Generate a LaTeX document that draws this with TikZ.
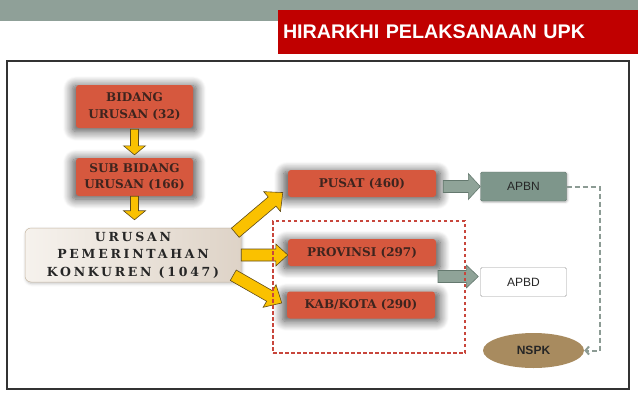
\documentclass[tikz,border=0pt]{standalone}
\usepackage{fontspec}
\usetikzlibrary{calc,arrows.meta,shapes.geometric,shadows.blur}
\newfontfamily\sansfont{Liberation Sans}
\newfontfamily\seriffont{DejaVu Serif}
\newfontfamily\spacedfont{DejaVu Serif}[LetterSpace=22]
\definecolor{bandgray}{RGB}{143,160,152}
\definecolor{titlered}{RGB}{192,0,0}
\definecolor{boxred}{RGB}{214,88,62}
\definecolor{boxtext}{RGB}{62,36,30}
\definecolor{arrowyellow}{RGB}{250,193,0}
\definecolor{arrowline}{RGB}{95,75,25}
\definecolor{arrowgray}{RGB}{143,163,152}
\definecolor{arrowgrayline}{RGB}{100,120,110}
\definecolor{apbngreen}{RGB}{126,150,139}
\definecolor{nspkbrown}{RGB}{168,139,95}
\definecolor{daerahred}{RGB}{200,70,60}
\definecolor{linkgray}{RGB}{140,155,148}
\definecolor{konklight}{RGB}{246,242,237}
\definecolor{konkdark}{RGB}{222,211,199}
\definecolor{konkline}{RGB}{200,185,165}
\newcommand\fatarrow[6]{%
\draw[#1] let \p1=#2, \p2=#3, \n1={atan2(\y2-\y1,\x2-\x1)}, \n2={veclen(\x2-\x1,\y2-\y1)} in
 [shift={(\p1)}, rotate=\n1] (0pt,-#4pt) -- ({\n2*1pt-#6pt},-#4pt) -- ({\n2*1pt-#6pt},-#5pt)
 -- ({\n2*1pt},0pt) -- ({\n2*1pt-#6pt},#5pt) -- ({\n2*1pt-#6pt},#4pt) -- (0pt,#4pt) -- cycle;}
\begin{document}
\begin{tikzpicture}[x=1pt,y=-1pt,
  titlebox/.style={rectangle, fill=titlered, text=white, font=\sansfont\bfseries\fontsize{19.7}{24}\selectfont,
    minimum height=44pt, text width=350pt, inner xsep=5pt, align=left},
  redbox/.style={rectangle, rounded corners=3pt, fill=boxred, text=boxtext,
    font=\seriffont\bfseries\fontsize{12}{16.5}\selectfont, align=center,
    minimum width=148pt, minimum height=27pt, inner sep=2pt,
    blur shadow={shadow xshift=0pt, shadow yshift=-2pt, shadow blur radius=9pt, shadow blur steps=12,
      shadow opacity=70, shadow scale=1.06}},
  konkbox/.style={rectangle, rounded corners=6pt, left color=konklight, right color=konkdark, draw=konkline,
    line width=0.5pt, minimum width=216pt, minimum height=54pt, align=center, inner sep=2pt,
    font=\spacedfont\bfseries\fontsize{12.5}{17.5}\selectfont, text=black!85,
    blur shadow={shadow xshift=1pt, shadow yshift=-1.5pt, shadow blur radius=3pt, shadow opacity=25}},
  fundbox/.style={rectangle, rounded corners=1.5pt, minimum width=86pt, minimum height=29pt,
    font=\sansfont\fontsize{12}{14}\selectfont, text=black!85},
  nspkbox/.style={ellipse, fill=nspkbrown, minimum width=101pt, minimum height=35pt, inner sep=0pt,
    font=\sansfont\bfseries\fontsize{12}{14}\selectfont, text=black!85},
  daerahbox/.style={rectangle, draw=daerahred, line width=1.4pt, dash pattern=on 3.5pt off 2.5pt,
    minimum width=192pt, minimum height=132pt, inner sep=0pt},
  yellowarrow/.style={fill=arrowyellow, draw=arrowline, line width=0.6pt},
  grayarrow/.style={fill=arrowgray, draw=arrowgrayline, line width=0.6pt},
  nspklink/.style={draw=linkgray, line width=2pt, dash pattern=on 5pt off 3pt,
    -{Straight Barb[length=3.5pt,width=8pt]}}]
\useasboundingbox (0,0) rectangle (638,405);
\fill[bandgray] (0,0) rectangle (638,21);
\node[titlebox] (title) at (458,32) {HIRARKHI PELAKSANAAN UPK};
\draw[black!80, line width=1.2pt] (7,61) rectangle (629,389);
\node[redbox, minimum width=117pt, minimum height=43pt] (bidang) at (134.5,106.5) {BIDANG\\URUSAN (32)};
\node[redbox, minimum width=117pt, minimum height=38pt] (subbidang) at (134.5,177) {SUB BIDANG\\URUSAN (166)};
\node[konkbox] (konkuren) at (133,255) {URUSAN\\PEMERINTAHAN\\KONKUREN (1047)};
\node[redbox] (pusat) at (362,183.5) {PUSAT (460)};
\node[redbox] (provinsi) at (362,252.5) {PROVINSI (297)};
\node[redbox] (kabkota) at (361,305) {KAB/KOTA (290)};
\node[fundbox, fill=apbngreen, draw=apbngreen!80!black,
  blur shadow={shadow xshift=1pt, shadow yshift=-1pt, shadow blur radius=2pt, shadow opacity=30}] (apbn) at (523.5,186.5) {APBN};
\node[fundbox, fill=white, draw=black!40] (apbd) at (523.5,282) {APBD};
\node[nspkbox] (nspk) at (533.5,350.5) {NSPK};
\coordinate (daerahout) at (438,276.5);
\fatarrow{yellowarrow}{($(bidang.south)+(0,1)$)}{($(subbidang.north)+(0,-3)$)}{4}{11}{9}
\fatarrow{yellowarrow}{(subbidang.south)}{($(subbidang.south |- konkuren.north)+(0,-8)$)}{4}{11}{9}
\fatarrow{yellowarrow}{($(konkuren.north east)+(-6,5)$)}{($(pusat.west)+(-5,9)$)}{6}{13}{14}
\fatarrow{yellowarrow}{(konkuren.east)}{(provinsi.west |- konkuren.east)}{6}{11}{12}
\fatarrow{yellowarrow}{($(konkuren.south east)+(-8,-7)$)}{($(kabkota.west)+(-5,-2)$)}{6}{13}{14}
\fatarrow{grayarrow}{($(pusat.east)+(7,3)$)}{(apbn.west)}{6}{13}{12}
\fatarrow{grayarrow}{(daerahout)}{($(apbd.west |- daerahout)+(-2,0)$)}{6}{11.5}{12}
\node[daerahbox] (daerah) at (369,287) {};
\draw[nspklink] (apbn.east) -- ++(33,0) |- (nspk.east);
\end{tikzpicture}
\end{document}
